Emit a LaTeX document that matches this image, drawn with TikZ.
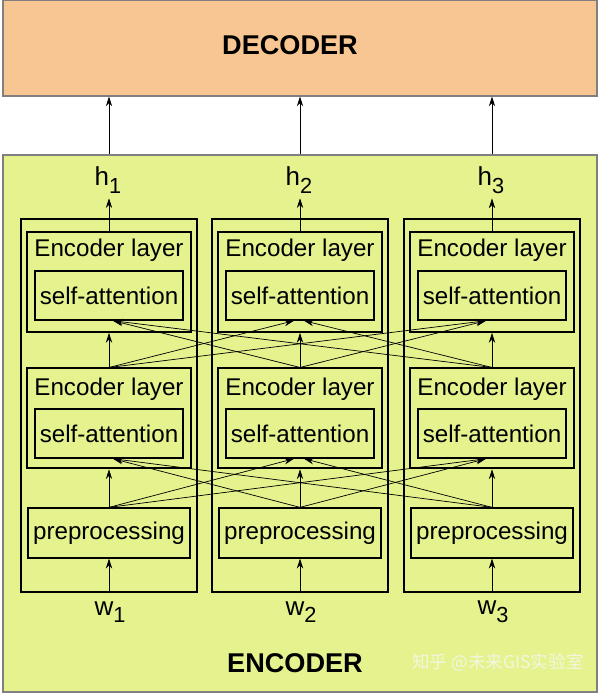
\documentclass[tikz,border=0pt]{standalone}
\usepackage{fontspec}
\setmainfont{Liberation Sans}
\newfontfamily\cjkfont{Noto Sans CJK SC}
\usepackage{tikz}
\usetikzlibrary{arrows.meta}

\definecolor{decfill}{RGB}{247,198,146}
\definecolor{encfill}{RGB}{229,242,142}
\definecolor{markgray}{RGB}{244,246,224}
\newcommand{\sublabel}[2]{#1\raisebox{-5.5pt}{\fontsize{15.5}{17}\selectfont #2}}

\begin{document}
\begin{tikzpicture}[font=\fontsize{17.2}{20}\selectfont,
  part/.style={draw=gray,line width=0.8pt,inner sep=0pt},
  column/.style={draw,line width=2pt,minimum width=4.4cm,minimum height=9.325cm},
  layer/.style={draw,line width=1.3pt,minimum width=4.1cm,minimum height=2.5cm},
  attn/.style={draw,line width=0.9pt,minimum width=3.7cm,minimum height=1.225cm,inner sep=0pt},
  prep/.style={draw,line width=0.9pt,minimum width=4.05cm,minimum height=1.25cm,inner sep=0pt},
  word/.style={font=\fontsize{18.5}{21}\selectfont},
  flow/.style={-{Stealth[length=7pt,width=4.5pt]},line width=0.5pt}]
\useasboundingbox (0,0) rectangle (15,17.35);

\node (decoder) [part,fill=decfill,minimum width=14.85cm,minimum height=2.4cm] at (7.5,16.15) {};
\node (dectitle) [font=\fontsize{19.3}{22}\selectfont\bfseries] at (7.25,16.225) {DECODER};
\node (encoder) [part,fill=encfill,minimum width=14.85cm,minimum height=13.425cm] at (7.5,6.7625) {};
\node (enctitle) [font=\fontsize{19.3}{22}\selectfont\bfseries] at (7.375,0.775) {ENCODER};
\node (mark) [font=\cjkfont\fontsize{12.5}{14}\selectfont,text=markgray] at (12.45,0.775) {知乎 @未来GIS实验室};

% first word
\node (col1) [column] at (2.725,7.2125) {};
\node (uplay1) [layer] at (2.725,10.3) {};
\node (uptext1) at (2.725,11.1) {Encoder layer};
\node (upsa1) [attn] at (2.725,9.96) {self-attention};
\node (lowlay1) [layer] at (2.725,6.89) {};
\node (lowtext1) at (2.725,7.625) {Encoder layer};
\node (lowsa1) [attn] at (2.725,6.51) {self-attention};
\node (pre1) [prep] at (2.725,4.025) {preprocessing};
\node (h1) [word] at (2.7,12.85) {\sublabel{h}{1}};
\node (w1) [word] at (2.75,2.05) {\sublabel{w}{1}};

% second word
\node (col2) [column] at (7.5,7.2125) {};
\node (uplay2) [layer] at (7.5,10.3) {};
\node (uptext2) at (7.5,11.1) {Encoder layer};
\node (upsa2) [attn] at (7.5,9.96) {self-attention};
\node (lowlay2) [layer] at (7.5,6.89) {};
\node (lowtext2) at (7.5,7.625) {Encoder layer};
\node (lowsa2) [attn] at (7.5,6.51) {self-attention};
\node (pre2) [prep] at (7.5,4.025) {preprocessing};
\node (h2) [word] at (7.475,12.85) {\sublabel{h}{2}};
\node (w2) [word] at (7.525,2.05) {\sublabel{w}{2}};

% third word
\node (col3) [column] at (12.3,7.2125) {};
\node (uplay3) [layer] at (12.3,10.3) {};
\node (uptext3) at (12.3,11.1) {Encoder layer};
\node (upsa3) [attn] at (12.3,9.96) {self-attention};
\node (lowlay3) [layer] at (12.3,6.89) {};
\node (lowtext3) at (12.3,7.625) {Encoder layer};
\node (lowsa3) [attn] at (12.3,6.51) {self-attention};
\node (pre3) [prep] at (12.3,4.025) {preprocessing};
\node (h3) [word] at (12.275,12.85) {\sublabel{h}{3}};
\node (w3) [word] at (12.325,2.05) {\sublabel{w}{3}};

\draw[flow] (col1.south) -- (pre1.south);
\draw[flow] (col2.south) -- (pre2.south);
\draw[flow] (col3.south) -- (pre3.south);
\draw[flow] (pre1.north) -- (lowlay1.south);
\draw[flow] (pre2.north) -- (lowlay2.south);
\draw[flow] (pre3.north) -- (lowlay3.south);
\draw[flow] (lowlay1.north) -- (uplay1.south);
\draw[flow] (lowlay2.north) -- (uplay2.south);
\draw[flow] (lowlay3.north) -- (uplay3.south);
\draw[flow] (uplay1.north) -- (uplay1 |- h1.south);
\draw[flow] (uplay2.north) -- (uplay2 |- h2.south);
\draw[flow] (uplay3.north) -- (uplay3 |- h3.south);
\draw[flow] (uplay1 |- encoder.north) -- (uplay1 |- decoder.south);
\draw[flow] (uplay2 |- encoder.north) -- (uplay2 |- decoder.south);
\draw[flow] (uplay3 |- encoder.north) -- (uplay3 |- decoder.south);

% every word looks at the others
\draw[flow] (pre2.north) -- ([xshift=0.1cm]lowsa1.south);
\draw[flow] (pre3.north) -- ([xshift=0.1cm]lowsa1.south);
\draw[flow] (pre1.north) -- ([xshift=-0.15cm]lowsa2.south);
\draw[flow] (pre3.north) -- ([xshift=0.1cm]lowsa2.south);
\draw[flow] (pre1.north) -- ([xshift=-0.15cm]lowsa3.south);
\draw[flow] (pre2.north) -- ([xshift=-0.15cm]lowsa3.south);
\draw[flow] (lowlay2.north) -- ([xshift=0.1cm]upsa1.south);
\draw[flow] (lowlay3.north) -- ([xshift=0.1cm]upsa1.south);
\draw[flow] (lowlay1.north) -- ([xshift=-0.15cm]upsa2.south);
\draw[flow] (lowlay3.north) -- ([xshift=0.1cm]upsa2.south);
\draw[flow] (lowlay1.north) -- ([xshift=-0.15cm]upsa3.south);
\draw[flow] (lowlay2.north) -- ([xshift=-0.15cm]upsa3.south);

\end{tikzpicture}
\end{document}
